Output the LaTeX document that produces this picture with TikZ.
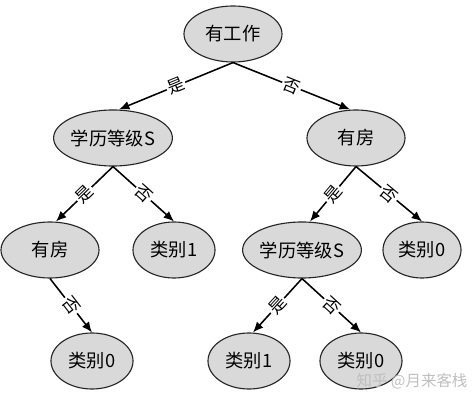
\documentclass[tikz,border=0pt]{standalone}
\usepackage{fontspec}
\setmainfont{Noto Sans CJK SC}
\usetikzlibrary{arrows.meta}
\usetikzlibrary{positioning}
\usetikzlibrary{shapes.geometric}

\begin{document}
\begin{tikzpicture}[x=0.025cm,y=-0.025cm,
  treenode/.style={ellipse,draw=black!85,thick,fill=black!15,minimum height=1.4cm,inner sep=0pt,font=\fontsize{13}{15}\selectfont},
  branch/.style={draw=black,line width=1.1pt,-{Latex[length=2.6mm,width=2.2mm]}},
  answer/.style={midway,sloped,fill=white,inner sep=1pt,font=\fontsize{12}{14}\selectfont}]
\useasboundingbox (0,0) rectangle (474,399);
\node[treenode,minimum width=2.45cm] (work) at (233,34) {有工作};
\node[treenode,minimum width=2.8cm] (edu) at (113,138) {学历等级S};
\node[treenode,minimum width=2.45cm] (house) at (356,138) {有房};
\node[treenode,minimum width=2.45cm] (house2) at (50,250) {有房};
\node[treenode,minimum width=2.05cm] (classA) at (174,250) {类别1};
\node[treenode,minimum width=2.8cm] (edu2) at (302,250) {学历等级S};
\node[treenode,minimum width=1.95cm] (classB) at (422,250) {类别0};
\node[treenode,minimum width=2.05cm] (classC) at (92,361) {类别0};
\node[treenode,minimum width=2.05cm] (classD) at (249,361) {类别1};
\node[treenode,minimum width=2.05cm] (classE) at (361,361) {类别0};

\draw[branch] (work.south) -- ([xshift=0.15cm]edu.north) node[answer] {是};
\draw[branch] (work.south) -- ([xshift=-0.15cm]house.north) node[answer] {否};
\draw[branch] (edu.south) -- ([xshift=0.15cm]house2.north) node[answer] {是};
\draw[branch] (edu.south) -- (classA.north) node[answer] {否};
\draw[branch] (house.south) -- ([xshift=0.2cm]edu2.north) node[answer] {是};
\draw[branch] (house.south) -- (classB.north) node[answer] {否};
\draw[branch] (house2.south) -- (classC.north) node[answer] {否};
\draw[branch] (edu2.south) -- ([xshift=0.1cm]classD.north) node[answer] {是};
\draw[branch] (edu2.south) -- (classE.north) node[answer] {否};

\node[text=black!25,font=\fontsize{11}{13}\selectfont] (mark) at (412,381) {知乎 @月来客栈};
\end{tikzpicture}
\end{document}
